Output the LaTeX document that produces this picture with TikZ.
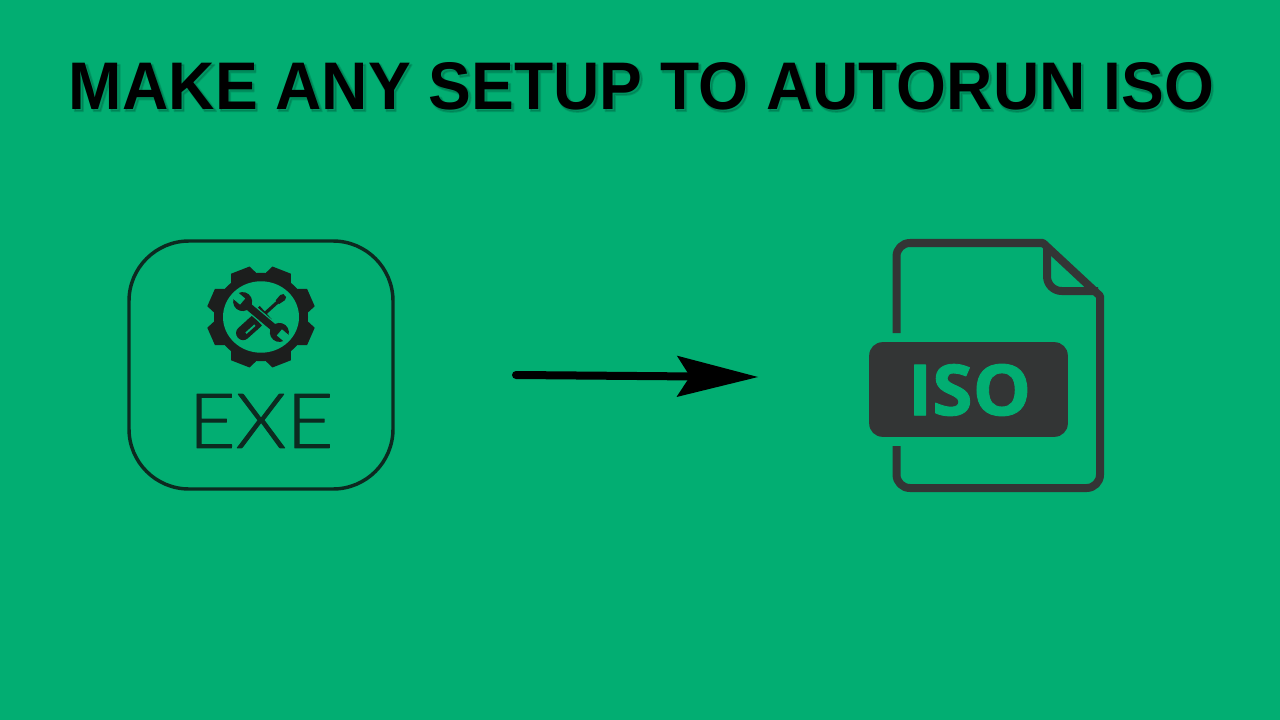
\documentclass[tikz,border=0pt]{standalone}
\usepackage{fontspec}
\usepackage{xcolor}
\usetikzlibrary{positioning, arrows.meta}
\setmainfont{Liberation Sans}
\newfontfamily\shadowfont[FakeBold=3]{Liberation Sans}
\newfontfamily\isofont[FakeBold=1.2]{Open Sans}
\newfontfamily\exefont[FakeBold=1.2]{Lato Light}
\definecolor{pagegreen}{HTML}{02AE72}
\definecolor{iconblack}{HTML}{1C1E1D}
\definecolor{iconline}{HTML}{0C2A20}
\definecolor{filegrey}{HTML}{333535}

\begin{document}
\begin{tikzpicture}[x=0.75pt, y=-0.75pt, line join=round,
        headline/.style={font=\bfseries\fontsize{48.1}{50}\selectfont, text=black, inner sep=0pt},
        exebox/.style={draw=iconline, line width=2.6pt, rectangle, rounded corners=45pt, minimum width=198pt, minimum height=186pt},
        exelabel/.style={font=\exefont\fontsize{57}{60}\selectfont, text=iconline, inner sep=0pt},
        isobadge/.style={fill=filegrey, rectangle, rounded corners=10pt, minimum width=149pt, minimum height=71pt, inner sep=0pt},
        filestroke/.style={draw=filegrey, line width=6pt}]
        \fill [pagegreen] (0,0) rectangle (1280,720);
        \node [headline, text opacity=0.13, font=\shadowfont\bfseries\fontsize{48.1}{50}\selectfont] at (643,88) {\scalebox{1}[1.05]{MAKE ANY SETUP TO AUTORUN ISO}};
        \node [headline] (title) at (641.5,86) {\scalebox{1}[1.05]{MAKE ANY SETUP TO AUTORUN ISO}};

        \node [exebox] (exe) at (261,365) {};
        \node [exelabel] (exetext) at (261,421) {\scalebox{1.07}[1]{EXE}};
        \coordinate (gear) at (261,317);

        \begin{scope}[shift={(gear)}, yscale=0.94]
            \fill [iconblack] (0,0) circle (47);
            \foreach \tooth in {22.5,67.5,...,360} {
                \fill [iconblack, rotate=\tooth] (44,-14) -- (54,-10) -- (54,10) -- (44,14) -- cycle;
            }
            \fill [pagegreen] (0,0) circle (38);
        \end{scope}
        \begin{scope}[shift={(gear)}, rotate=42]
            \draw [iconblack, line width=2.4pt] (6,0) -- (24,0);
            \fill [iconblack] (22,-2.5) -- (29,-3.5) -- (32,-2) -- (32,2) -- (29,3.5) -- (22,2.5) -- cycle;
            \fill [iconblack, rounded corners=5pt] (-5,-7) rectangle (-31,7);
            \fill [iconblack] (-5,-7) rectangle (-12,7);
            \draw [pagegreen, line width=1.4pt] (-10,2) -- (-22,2);
            \draw [iconblack, line width=2.2pt] (5,-9) -- (5,9);
        \end{scope}
        \begin{scope}[shift={(gear)}, rotate=-40]
            \draw [pagegreen, line width=7.5pt] (-17,0) -- (17,0);
            \draw [iconblack, line width=5.5pt] (-20,0) -- (20,0);
            \foreach \headx/\notchx in {-24/-35, 24/35} {
                \fill [iconblack] (\headx,0) circle (9.5);
                \fill [pagegreen] (\headx,-4) rectangle (\notchx,4);
            }
        \end{scope}

        \coordinate (arrowstart) at (516,375);
        \coordinate (arrowtip) at (758,377);
        \draw [line width=6pt, line cap=round, -{Stealth[length=61pt, width=31pt, inset=10pt, line width=0pt]}] (arrowstart) -- (arrowtip);

        \node [isobadge] (badge) at (968.5,389.5) {};
        \node [font=\isofont\bfseries\fontsize{53}{55}\selectfont, text=pagegreen, inner sep=0pt] (isotext) at (969.5,390) {\scalebox{1.04}[1]{ISO}};
        \draw [filestroke, rounded corners=10pt] (896.5,333) -- (896.5,243) [sharp corners] -- (1043,243) -- (1100,296) [rounded corners=10pt] -- (1100,488) -- (896.5,488) -- (896.5,446);
        \draw [filestroke, rounded corners=11pt] (1047,246) -- (1047,291) -- (1098,291);
    \end{tikzpicture}
\end{document}
